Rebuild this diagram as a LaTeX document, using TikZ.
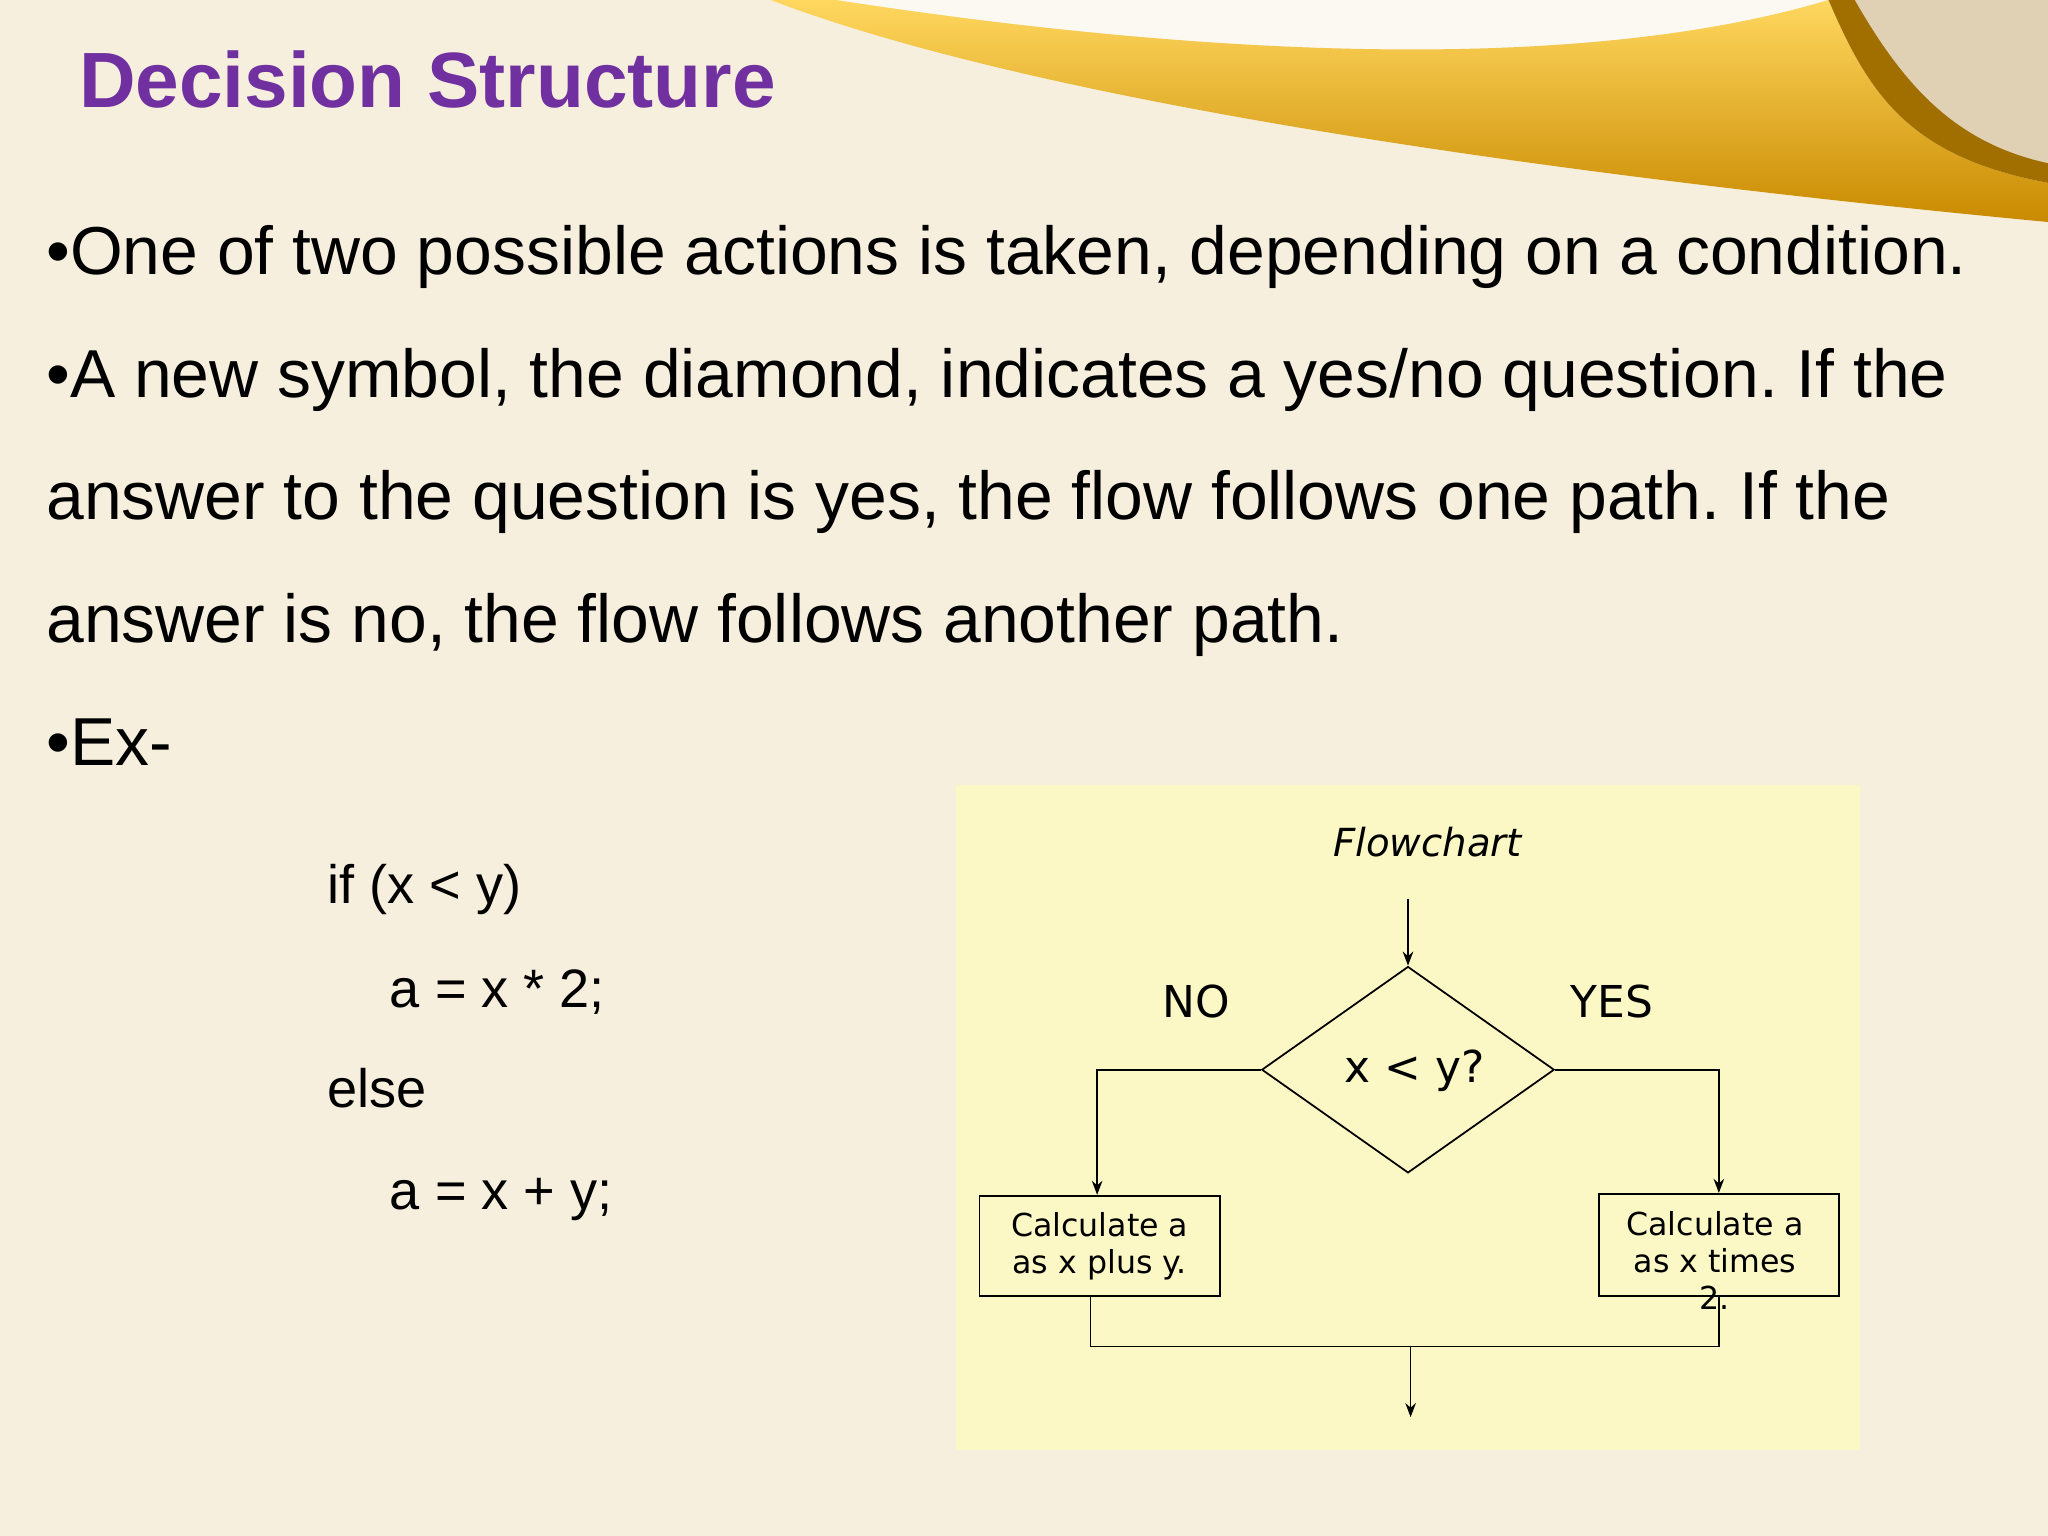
\documentclass[tikz,border=0pt]{standalone}
\usepackage{fontspec}
\setmainfont{Liberation Sans}
\newfontfamily\fc{DejaVu Sans}
\usetikzlibrary{arrows.meta,shapes.geometric}
\frenchspacing
\definecolor{bg}{HTML}{F6EFDE}
\definecolor{purp}{HTML}{7030A0}
\definecolor{gold}{HTML}{FFC61A}
\definecolor{golddk}{HTML}{C98A00}
\definecolor{tan}{HTML}{B89A6A}
\definecolor{fcbg}{HTML}{FBF8C6}
\tikzset{
  body/.style={anchor=base west,font=\fontsize{19.3}{22}\selectfont,inner sep=0},
  code/.style={anchor=base west,font=\fontsize{15.4}{18}\selectfont,inner sep=0},
  fbox/.style={draw,line width=0.5pt,fill=fcbg,minimum width=184*0.013061cm,align=center,font=\fc\fontsize{9}{10.5}\selectfont,inner sep=1pt},
  ln/.style={line width=0.5pt},
  arr/.style={ln,-{Stealth[length=4pt,width=3pt]}}
}
\begin{document}
\begin{tikzpicture}[x=0.013061cm,y=-0.013061cm]
\useasboundingbox (0,0) rectangle (1568,1176);
\fill[bg] (0,0) rectangle (1568,1176);
% curl
\fill[tan!35!bg] (1380,0) .. controls (1430,60) and (1480,110) .. (1568,130) -- (1568,0) -- cycle;
\fill[white!60!bg] (640,0) .. controls (900,40) and (1200,60) .. (1400,0) -- cycle;
\shade[top color=gold!70!white,bottom color=golddk] (590,0) .. controls (800,80) and (1200,135) .. (1568,170) -- (1568,140) .. controls (1460,120) and (1430,70) .. (1400,0) .. controls (1200,60) and (900,40) .. (640,0) -- cycle;
\fill[golddk!80!black] (1568,140) .. controls (1460,120) and (1430,70) .. (1400,0) -- (1420,0) .. controls (1460,70) and (1500,110) .. (1568,125) -- cycle;
\node[anchor=base west,inner sep=0,text=purp,font=\bfseries\fontsize{22.3}{26}\selectfont] (title) at (60,82) {Decision Structure};
\node[body] (b1) at (35,210) {•One of two possible actions is taken, depending on a condition.};
\node[body] (b2) at (35,304) {•A new symbol, the diamond, indicates a yes/no question. If the};
\node[body] (b3) at (35,398) {answer to the question is yes, the flow follows one path. If the};
\node[body] (b4) at (35,492) {answer is no, the flow follows another path.};
\node[body] (b5) at (35,586) {•Ex-};
\node[code] (c1) at (250,692) {if (x < y)};
\node[code] (c2) at (298,771) {a = x * 2;};
\node[code] (c3) at (250,848) {else};
\node[code] (c4) at (298,926) {a = x + y;};
\fill[fcbg] (732,601) rectangle (1424,1110);
\node[font=\fc\itshape\fontsize{11}{13}\selectfont] (fct) at (1093,645) {Flowchart};
\coordinate (top) at (1078,688);
\node[draw,ln,diamond,minimum width=224*0.013061cm,minimum height=158*0.013061cm,inner sep=0] (d) at (1078,819) {};
\node[font=\fc\fontsize{12.5}{14}\selectfont] (dt) at (1083,820) {x < y?};
\node[font=\fc\fontsize{12.5}{14}\selectfont] (no) at (916,767) {NO};
\node[font=\fc\fontsize{12.5}{14}\selectfont] (yes) at (1234,767) {YES};
\node[fbox,minimum height=77*0.013061cm] (lb) at (842,954) {Calculate a\\as x plus y.};
\node[fbox,minimum height=78*0.013061cm] (rb) at (1316,953) {};
\node[font=\fc\fontsize{9}{10.5}\selectfont,align=center,anchor=north,inner sep=0] (rt) at (1313,927) {Calculate a\\as x times\\2.};
\draw[arr] (top) -- (d.north);
\draw[arr] (d.west) -| (lb.north-|840,0);
\draw[arr] (d.east) -| (rb.north);
\coordinate (j) at (1080,1031);
\coordinate (end) at (1080,1085);
\draw[ln] (lb.south-|835,0) |- (j) -| (rb.south);
\draw[arr] (j) -- (end);
\end{tikzpicture}
\end{document}
